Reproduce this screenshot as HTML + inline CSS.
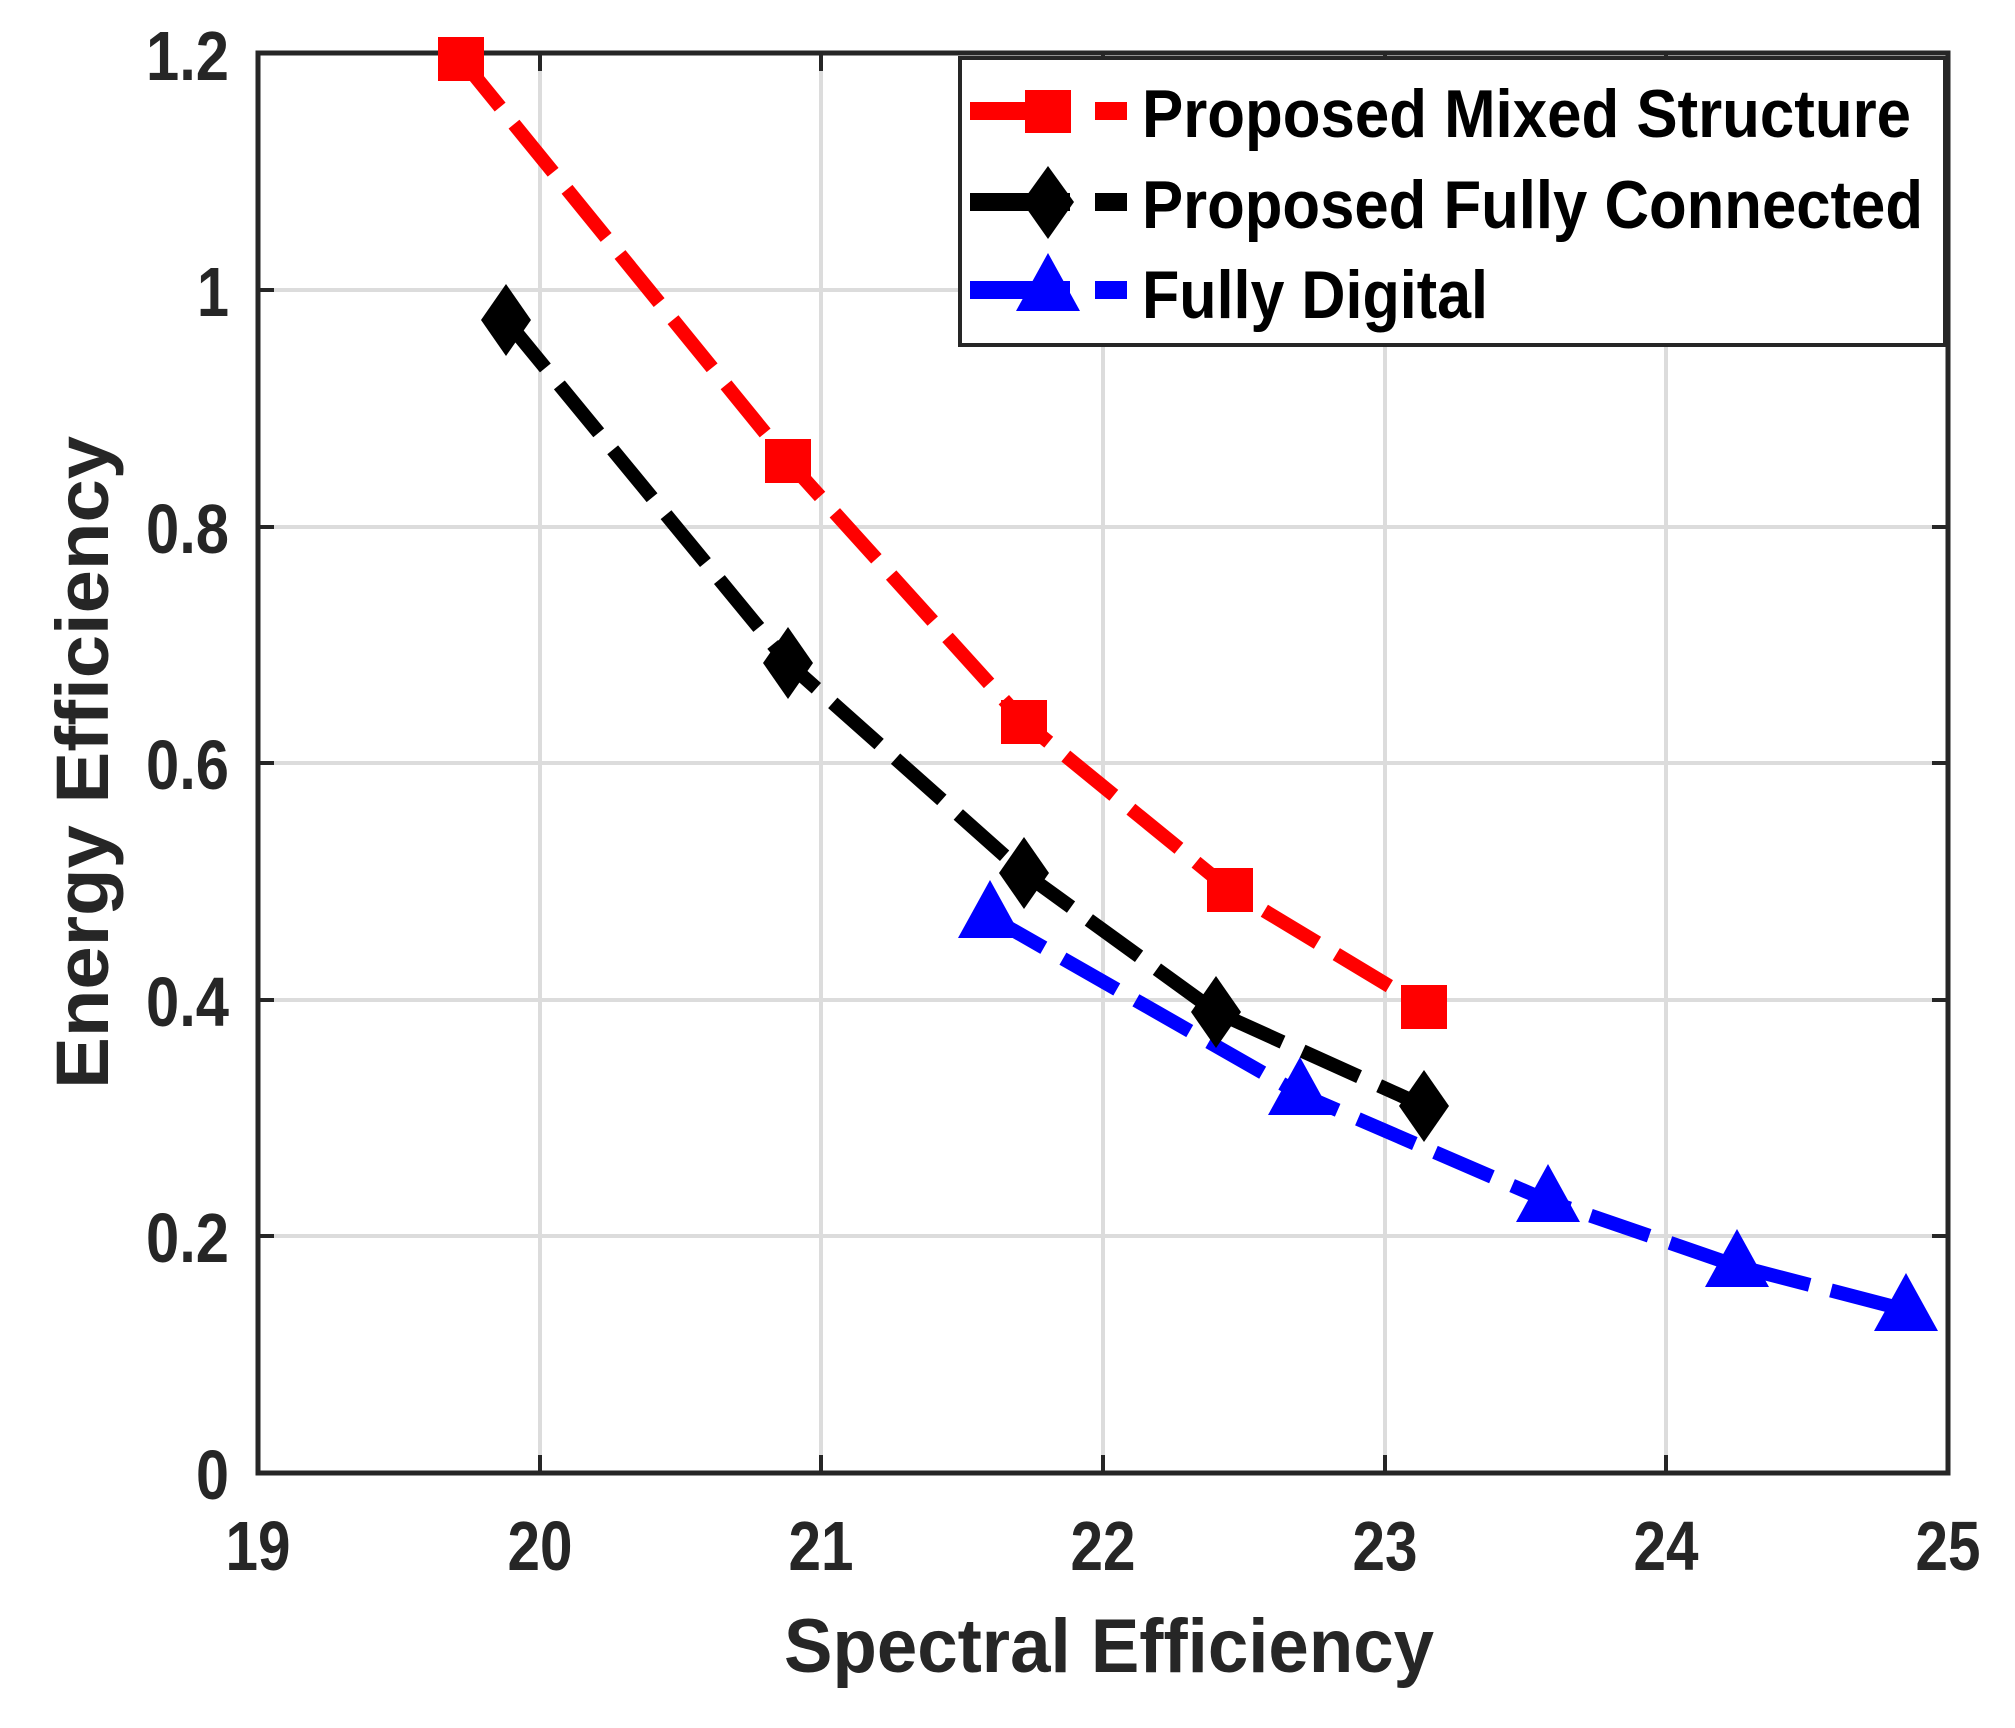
<!DOCTYPE html>
<html><head><meta charset="utf-8"><style>html,body{margin:0;padding:0;background:#fff}</style></head>
<body>
<svg width="2015" height="1723" viewBox="0 0 2015 1723" xmlns="http://www.w3.org/2000/svg" font-family="Liberation Sans, Arial, sans-serif" font-weight="bold">
<rect width="2015" height="1723" fill="#fff"/>
<g stroke="#dcdcdc" stroke-width="4">
<line x1="540" y1="53" x2="540" y2="1473"/><line x1="821" y1="53" x2="821" y2="1473"/><line x1="1103" y1="53" x2="1103" y2="1473"/><line x1="1385" y1="53" x2="1385" y2="1473"/><line x1="1666" y1="53" x2="1666" y2="1473"/>
<line x1="258" y1="290" x2="1948" y2="290"/><line x1="258" y1="527" x2="1948" y2="527"/><line x1="258" y1="763" x2="1948" y2="763"/><line x1="258" y1="1000" x2="1948" y2="1000"/><line x1="258" y1="1236" x2="1948" y2="1236"/>
</g>
<g stroke="#262626" stroke-width="4">
<path d="M540 1473v-18M821 1473v-18M1103 1473v-18M1385 1473v-18M1666 1473v-18M540 53v18M821 53v18M1103 53v18M1385 53v18M1666 53v18"/>
<path d="M258 290h16M258 527h16M258 763h16M258 1000h16M258 1236h16M1948 290h-16M1948 527h-16M1948 763h-16M1948 1000h-16M1948 1236h-16"/>
</g>
<rect x="258" y="53" width="1690" height="1420" fill="none" stroke="#262626" stroke-width="5"/>
<g fill="none" stroke-width="14" stroke-dasharray="62 22">
<polyline stroke="#ff0000" points="461,59 788,461 1024,722 1230,890 1424,1007"/>
<polyline stroke="#000" points="506,320 788,663 1024,873 1216,1012 1424,1106"/>
<polyline stroke="#0000ff" points="990,917 1300,1094 1548,1201 1737,1266 1906,1310"/>
</g>
<g fill="#ff0000">
<rect x="438" y="37" width="46" height="44"/><rect x="765" y="439" width="46" height="44"/><rect x="1001" y="700" width="46" height="44"/><rect x="1207" y="868" width="46" height="44"/><rect x="1401" y="985" width="46" height="44"/>
</g>
<g fill="#000">
<path d="M506 284l25 36-25 36-25-36z"/><path d="M788 627l25 36-25 36-25-36z"/><path d="M1024 837l25 36-25 36-25-36z"/><path d="M1216 976l25 36-25 36-25-36z"/><path d="M1424 1070l25 36-25 36-25-36z"/>
</g>
<g fill="#0000ff">
<path d="M990 880l32 58h-64z"/><path d="M1300 1057l32 58h-64z"/><path d="M1548 1164l32 58h-64z"/><path d="M1737 1229l32 58h-64z"/><path d="M1906 1273l32 58h-64z"/>
</g>
<g fill="#262626" font-size="70">
<g text-anchor="middle">
<text x="258" y="1570" textLength="65" lengthAdjust="spacingAndGlyphs">19</text><text x="540" y="1570" textLength="65" lengthAdjust="spacingAndGlyphs">20</text><text x="821" y="1570" textLength="65" lengthAdjust="spacingAndGlyphs">21</text><text x="1103" y="1570" textLength="65" lengthAdjust="spacingAndGlyphs">22</text><text x="1385" y="1570" textLength="65" lengthAdjust="spacingAndGlyphs">23</text><text x="1666" y="1570" textLength="65" lengthAdjust="spacingAndGlyphs">24</text><text x="1948" y="1570" textLength="65" lengthAdjust="spacingAndGlyphs">25</text>
</g>
<g text-anchor="end">
<text x="229" y="80" textLength="83" lengthAdjust="spacingAndGlyphs">1.2</text><text x="229" y="316" textLength="32" lengthAdjust="spacingAndGlyphs">1</text><text x="229" y="553" textLength="83" lengthAdjust="spacingAndGlyphs">0.8</text><text x="229" y="789" textLength="83" lengthAdjust="spacingAndGlyphs">0.6</text><text x="229" y="1026" textLength="83" lengthAdjust="spacingAndGlyphs">0.4</text><text x="229" y="1262" textLength="83" lengthAdjust="spacingAndGlyphs">0.2</text><text x="229" y="1499" textLength="33" lengthAdjust="spacingAndGlyphs">0</text>
</g>
</g>
<text x="784" y="1672" font-size="76" fill="#262626" textLength="650" lengthAdjust="spacingAndGlyphs">Spectral Efficiency</text>
<text transform="translate(108,1089) rotate(-90)" font-size="74" fill="#262626" textLength="653" lengthAdjust="spacingAndGlyphs">Energy Efficiency</text>
<rect x="960" y="58" width="985" height="287" fill="#fff" stroke="#262626" stroke-width="4"/>
<g stroke-width="18" fill="none">
<path d="M970 111h100m25 0h32" stroke="#ff0000"/>
<path d="M970 202h100m25 0h32" stroke="#000"/>
<path d="M970 290h100m25 0h32" stroke="#0000ff"/>
</g>
<rect x="1025" y="90" width="46" height="43" fill="#ff0000"/>
<path d="M1048 166l26 36-26 37-26-37z" fill="#000"/>
<path d="M1048 253l32 58h-64z" fill="#0000ff"/>
<g fill="#000" font-size="68">
<text x="1142" y="137" textLength="769" lengthAdjust="spacingAndGlyphs">Proposed Mixed Structure</text>
<text x="1142" y="228" textLength="781" lengthAdjust="spacingAndGlyphs">Proposed Fully Connected</text>
<text x="1142" y="318" textLength="346" lengthAdjust="spacingAndGlyphs">Fully Digital</text>
</g>
</svg>
</body></html>
